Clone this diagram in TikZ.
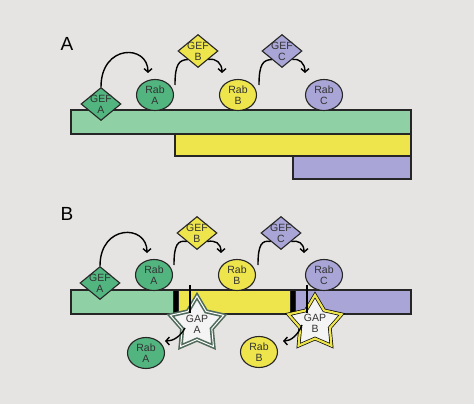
\documentclass[tikz,border=0pt]{standalone}
\usepackage{fontspec}
\setmainfont{Liberation Sans}
\usepackage{tikz}
\usetikzlibrary{shapes.geometric, arrows.meta, calc}

\definecolor{bgGray}{HTML}{E6E4E2}
\definecolor{barG}{HTML}{8FD0A4}
\definecolor{rabG}{HTML}{52B47F}
\definecolor{rabY}{HTML}{EEE54C}
\definecolor{rabP}{HTML}{A9A5D6}
\definecolor{gapFill}{HTML}{F4F4F4}
\definecolor{gapEdge}{HTML}{4F6A5A}

\begin{document}
\begin{tikzpicture}[
    x=1pt, y=-1pt,
    rab/.style={ellipse, draw=black!85, line width=1.1pt, minimum width=37pt, minimum height=31pt, inner sep=-2pt, align=center, text=black!80, font=\fontsize{10.5}{11}\selectfont},
    gef/.style={diamond, aspect=1.2, draw=black!85, line width=1.1pt, minimum width=40pt, minimum height=33pt, inner sep=-2.5pt, align=center, text=black!80, font=\fontsize{10.5}{11}\selectfont},
    gap/.style={star, star points=5, star point ratio=1.8, minimum size=56pt, inner sep=-4pt, fill=gapFill, align=center, text=black!80, font=\fontsize{10.5}{11}\selectfont},
    bar/.style={draw=black!85, line width=1.1pt},
    panel/.style={font=\fontsize{19}{19}\selectfont},
    arrow/.style={-{Straight Barb[length=3.5pt,width=8pt]}, line width=1.4pt},
    link/.style={line width=1.4pt}
]

\fill[bgGray] (0,0) rectangle (474,404);
\useasboundingbox (0,0) rectangle (474,404);

% Panel A
\node[panel] (labA) at (67,44) {A};
\draw[bar, fill=barG] (71,110) rectangle (411,134);
\draw[bar, fill=rabY] (175,134) rectangle (411,156);
\draw[bar, fill=rabP] (293,156) rectangle (411,179);

\node[gef, fill=rabG] (gefA) at (101,104) {GEF\\A};
\node[rab, fill=rabG] (rabA) at (155,95) {Rab\\A};
\node[rab, fill=rabY] (rabB) at (238,95) {Rab\\B};
\node[rab, fill=rabP] (rabC) at (324,95) {Rab\\C};
\node[gef, fill=rabY] (gefB) at (198,51) {GEF\\B};
\node[gef, fill=rabP] (gefC) at (282,51) {GEF\\C};

\coordinate (tipA) at (148,73);
\coordinate (tipB) at (222,73);
\coordinate (tipC) at (305,73);
\coordinate (startB) at (175,85);
\coordinate (startC) at (259,85);

\draw[arrow] (gefA.north) .. controls (101,44) and (148,44) .. (tipA);
\draw[link] (startB) .. controls (175,64) and (179,60) .. (gefB.south west);
\draw[arrow] (gefB.south east) .. controls (216,58) and (222,63) .. (tipB);
\draw[link] (startC) .. controls (259,64) and (263,60) .. (gefC.south west);
\draw[arrow] (gefC.south east) .. controls (299,58) and (305,63) .. (tipC);

% Panel B
\node[panel] (labB) at (67,214) {B};
\draw[bar, fill=barG] (71,290) rectangle (174,314);
\draw[bar, fill=rabY] (178,290) rectangle (291,314);
\draw[bar, fill=rabP] (295,290) rectangle (411,314);
\fill[black] (174,290) rectangle (178,314);
\fill[black] (291,290) rectangle (295,314);
\draw[bar] (71,290) rectangle (411,314);

\node[gef, fill=rabG] (gefA2) at (100,283) {GEF\\A};
\node[rab, fill=rabG] (rabA2) at (154,275) {Rab\\A};
\node[rab, fill=rabY] (rabB2) at (237,275) {Rab\\B};
\node[rab, fill=rabP] (rabC2) at (324,275) {Rab\\C};
\node[gef, fill=rabY] (gefB2) at (197,233) {GEF\\B};
\node[gef, fill=rabP] (gefC2) at (281,233) {GEF\\C};

\node[gap, draw=gapEdge, line width=1.6pt, double=white, double distance=1pt] (gapA) at (197,324) {GAP\\A};
\node[gap, draw=black, line width=0.7pt, double=rabY, double distance=2.2pt] (gapB) at (315,323) {GAP\\B};

\node[rab, fill=rabG] (rabA3) at (146,353) {Rab\\A};
\node[rab, fill=rabY] (rabB3) at (259,352) {Rab\\B};

\coordinate (tipA2) at (147,253);
\coordinate (tipB2) at (221,253);
\coordinate (tipC2) at (304,253);
\coordinate (startB2) at (174,265);
\coordinate (startC2) at (258,265);
\coordinate (cutA) at (190,285);
\coordinate (cutAend) at (190,313);
\coordinate (cutB) at (307,285);
\coordinate (cutBend) at (307,313);
\coordinate (outA) at (185,328);
\coordinate (outB) at (302,325);
\coordinate (tipA3) at (165,341);
\coordinate (tipB3) at (283,341);

\draw[arrow] (gefA2.north) .. controls (100,224) and (147,224) .. (tipA2);
\draw[link] (startB2) .. controls (174,244) and (178,240) .. (gefB2.south west);
\draw[arrow] (gefB2.south east) .. controls (215,240) and (221,243) .. (tipB2);
\draw[link] (startC2) .. controls (258,244) and (262,240) .. (gefC2.south west);
\draw[arrow] (gefC2.south east) .. controls (298,240) and (304,243) .. (tipC2);

\draw[link] (cutA) -- (cutAend);
\draw[link] (cutB) -- (cutBend);
\draw[arrow] (outA) .. controls (180,337) and (173,341) .. (tipA3);
\draw[arrow] (outB) .. controls (298,335) and (291,341) .. (tipB3);

\end{tikzpicture}
\end{document}
